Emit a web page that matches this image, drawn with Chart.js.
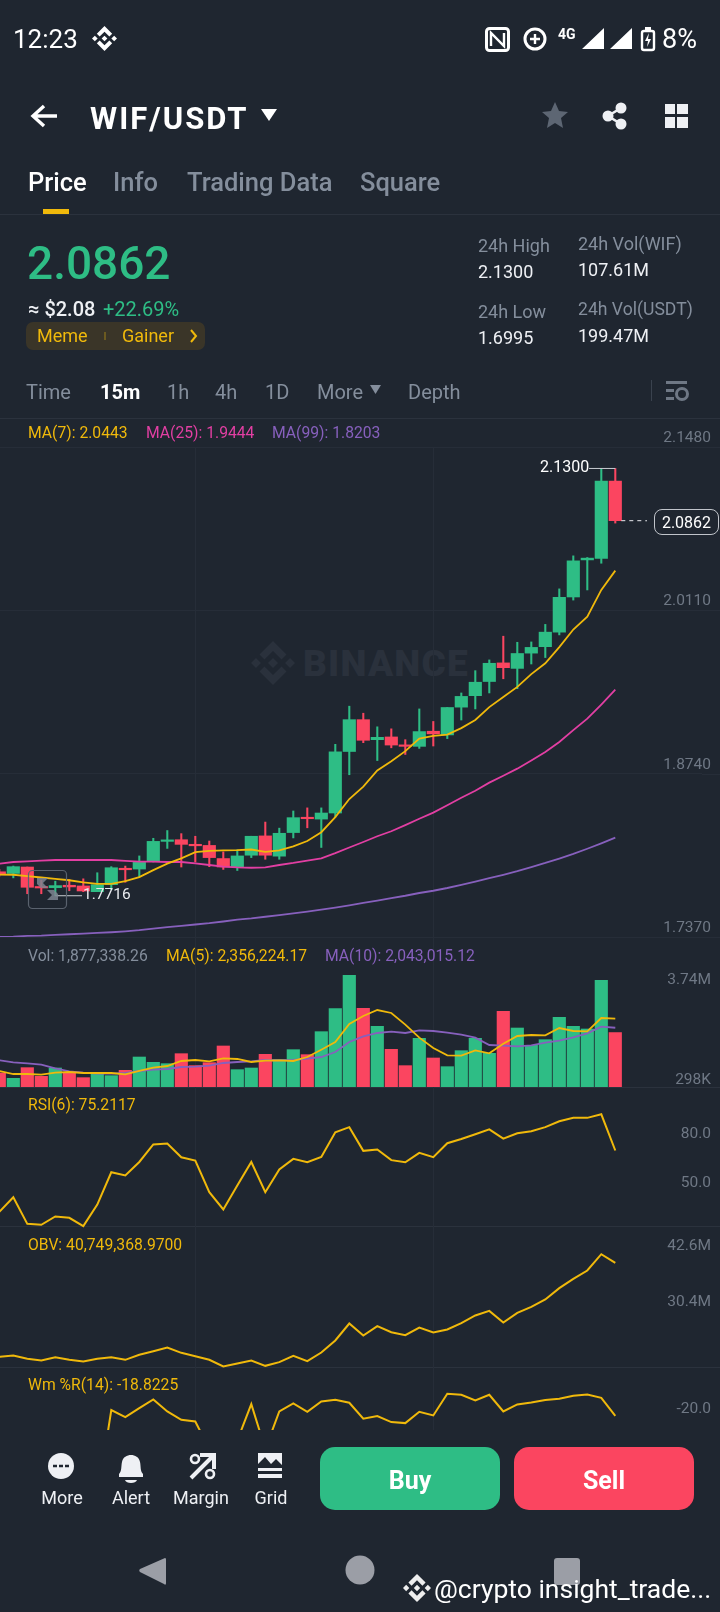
<!DOCTYPE html>
<html><head><meta charset="utf-8">
<script src="https://cdn.jsdelivr.net/npm/chart.js@4"></script>
<style>
html,body{margin:0;padding:0;background:#1f2630;width:720px;height:1612px;overflow:hidden;font-family:Roboto,sans-serif}
#app{position:relative;width:720px;height:1612px;overflow:hidden}
canvas{position:absolute;left:0}
.t{position:absolute;white-space:nowrap;transform:translateY(-50%);line-height:1}
.sep{position:absolute;left:0;width:720px;height:1px;background:#2b323d}
svg{position:absolute;overflow:visible}
#bar{position:absolute;left:0;top:1430px;width:720px;height:182px;background:#1f2630}
.btn{position:absolute;top:1447px;height:63px;width:180px;border-radius:15px}
</style></head><body><div id="app">
<svg style="left:251px;top:641px" width="44" height="44" viewBox="0 0 32 32"><use href="#bnb" fill="#2a313c"/></svg>
<svg width="0" height="0" style="left:0;top:0"><defs><path id="bnb" d="M9.79 13.45 16 7.24l6.21 6.21 3.61-3.61L16 0 6.18 9.82l3.61 3.63zM0 16l3.61-3.61L7.23 16l-3.62 3.61L0 16zm9.79 2.55L16 24.76l6.21-6.21 3.62 3.61L16 32l-9.82-9.82 3.61-3.63zM24.77 16l3.62-3.61L32 16l-3.61 3.61L24.77 16zM19.67 16l-3.67-3.67-2.71 2.71-.31.31-.64.64L16 19.67 19.67 16z"/></defs></svg>
<canvas id="cPrice"></canvas><canvas id="cVol"></canvas><canvas id="cRsi"></canvas><canvas id="cObv"></canvas><canvas id="cWr"></canvas>
<div id="bar"></div>
<div class="btn" style="left:320px;background:#2ebd85"></div>
<div class="btn" style="left:514px;background:#fb4560"></div>
<svg style="left:92px;top:26px" width="25" height="25" viewBox="0 0 32 32"><use href="#bnb" fill="#fff"/></svg>
<svg style="left:403px;top:1574px" width="28" height="28" viewBox="0 0 32 32"><use href="#bnb" fill="#eee"/></svg>
<svg style="left:0;top:0" width="720" height="1612" viewBox="0 0 720 1612">
 <rect x="486.500" y="28.500" width="22" height="22" rx="3" stroke="#fff" stroke-width="3" fill="#1f2630"/><path d="M491 46V33l13 13V33" stroke="#fff" stroke-width="2.400" fill="none"/>
 <circle cx="535" cy="39" r="10" stroke="#fff" stroke-width="3" fill="none"/><path d="M535 34v10M530 39h10" stroke="#fff" stroke-width="2.400"/>
 <path d="M604 28v21h-22zM632 28v21h-22z" fill="#fff"/>
 <rect x="642" y="31" width="12" height="19" rx="2" stroke="#fff" stroke-width="2.400" fill="none"/><rect x="645" y="27" width="6" height="3" fill="#fff"/><path d="M649 33l-4 8h3l-1 6 4-8h-3z" fill="#fff"/>
 <path d="M34 116h23M44 106l-11 10 11 10" stroke="#fff" stroke-width="3.400" fill="none"/>
 <path d="M261 109h16l-8 12z" fill="#fff"/>
 <path d="M555 102l4 9 9 1-7 6 2 10-8-5-8 5 2-10-7-6 9-1z" fill="#5d6673"/>
 <circle cx="621" cy="108" r="5.500" fill="#eef0f4"/><circle cx="608" cy="116" r="5.500" fill="#eef0f4"/><circle cx="621" cy="124" r="5.500" fill="#eef0f4"/><path d="M621 108l-13 8 13 8" stroke="#eef0f4" stroke-width="2.600" fill="none"/>
 <path d="M665 104h10v10h-10zM677 104h11v10h-11zM665 117h10v11h-10zM677 117h11v11h-11z" fill="#eef0f4"/>
 <rect x="43" y="209" width="26" height="5" fill="#f0b90b"/>
 <rect x="26" y="322" width="179" height="28" rx="7" fill="#3a3528"/>
 <rect x="104" y="332" width="2" height="8" fill="#6b5a20"/>
 <path d="M191 330l5 6-5 6" stroke="#f0b90b" stroke-width="2" fill="none"/>
 <path d="M370 385h11l-5.500 9z" fill="#848e9c"/>
 <rect x="651" y="380" width="1" height="21" fill="#3a424e"/>
 <path d="M666 381h21v3h-21zM666 389h8v3h-8zM666 397h8v3h-8z" fill="#6f7885"/><circle cx="682" cy="394" r="5.500" stroke="#6f7885" stroke-width="3" fill="none"/>
 <rect x="28.500" y="870.500" width="38" height="38" rx="4" stroke="#5a626e" stroke-width="1.200" fill="none"/>
 <path d="M37 878h11l-5 5 5 5h-7l-4-4zM58 900H47l5-5-5-5h7l4 4z" fill="#7d8590" opacity=".85"/>
 <circle cx="61" cy="1466" r="13" fill="#eef0f4"/><path d="M53 1466h4M59 1466h4M65 1466h4" stroke="#1f2630" stroke-width="2.600"/>
 <path d="M119 1474c3-3 2-8 3-12 1-5 5-7 9-7s8 2 9 7c1 4 0 9 3 12v3h-24zM125 1480h12c-1 4-11 4-12 0z" fill="#eef0f4"/>
 <path d="M191 1478l23-23M200 1455h14v14" stroke="#eef0f4" stroke-width="4" fill="none"/><circle cx="195" cy="1459" r="4" stroke="#eef0f4" stroke-width="2.600" fill="none"/><circle cx="210" cy="1474" r="4" stroke="#eef0f4" stroke-width="2.600" fill="none"/>
 <path d="M258 1453h24v12l-6-6-5 5-6-7-7 7z M258 1468h24v3h-24z M258 1474h24v4h-24z" fill="#eef0f4"/>
 <path d="M165 1558c1 0 1 1 1 2v23c0 2-1 2-2 1l-24-12c-1-1-1-2 0-3z" fill="#9b9ea6"/>
 <circle cx="360" cy="1570" r="14.500" fill="#9b9ea6"/>
 <rect x="554" y="1558" width="26" height="27" rx="3" fill="#9b9ea6"/>
</svg>
<script>
// ---- data -------------------------------------------------------------
const candleIndex=[-1,0,1,2,3,4,5,6,7,8,9,10,11,12,13,14,15,16,17,18,19,20,21,22,23,24,25,26,27,28,29,30,31,32,33,34,35,36,37,38,39,40,41,42,43];
const opens=[1.7917,1.7903,1.7957,1.7792,1.7784,1.7804,1.7798,1.7750,1.7809,1.7945,1.7940,1.8008,1.8172,1.8186,1.8147,1.8138,1.8028,1.7957,1.8056,1.8218,1.8048,1.8246,1.8373,1.8359,1.8410,1.8926,1.9193,1.9025,1.9048,1.8980,1.8969,1.9096,1.9065,1.9298,1.9394,1.9513,1.9669,1.9623,1.9751,1.9805,1.9927,2.0222,2.0533,2.0545,2.1194];
const closes=[1.7892,1.7960,1.7787,1.7781,1.7801,1.7790,1.7756,1.7809,1.7951,1.7934,1.7996,1.8172,1.8184,1.8147,1.8135,1.8036,1.7957,1.8050,1.8215,1.8056,1.8240,1.8371,1.8362,1.8410,1.8923,1.9193,1.9020,1.9045,1.8980,1.8969,1.9093,1.9074,1.9295,1.9388,1.9507,1.9666,1.9629,1.9748,1.9799,1.9927,2.0219,2.0525,2.0548,2.1194,2.0862];
const highs=[1.7937,1.7965,1.7957,1.7846,1.7838,1.7852,1.7858,1.7909,1.7960,1.7965,1.8050,1.8198,1.8263,1.8237,1.8215,1.8175,1.8084,1.8101,1.8215,1.8334,1.8283,1.8427,1.8453,1.8453,1.8986,1.9306,1.9247,1.9133,1.9116,1.9025,1.9283,1.9178,1.9295,1.9417,1.9604,1.9694,1.9893,1.9842,1.9845,1.9992,2.0290,2.0567,2.0553,2.1300,2.1300];
const lows=[1.7880,1.7866,1.7733,1.7733,1.7716,1.7758,1.7750,1.7750,1.7767,1.7829,1.7875,1.7999,1.8113,1.7957,1.7999,1.7960,1.7937,1.7928,1.8036,1.8022,1.8022,1.8201,1.8286,1.8121,1.8376,1.8731,1.9000,1.8850,1.8957,1.8901,1.8952,1.8972,1.9034,1.9190,1.9283,1.9417,1.9536,1.9453,1.9660,1.9714,1.9904,2.0196,2.0281,2.0505,2.0842];
const ma7=[1.7894,1.7892,1.7880,1.7869,1.7858,1.7846,1.7829,1.7815,1.7815,1.7838,1.7872,1.7931,1.7985,1.8030,1.8082,1.8093,1.8096,1.8098,1.8104,1.8084,1.8096,1.8130,1.8175,1.8249,1.8376,1.8527,1.8631,1.8767,1.8844,1.8929,1.9034,1.9057,1.9068,1.9122,1.9190,1.9298,1.9383,1.9468,1.9575,1.9666,1.9802,1.9949,2.0057,2.0281,2.0443];
const ma25=[1.7985,1.7999,1.8005,1.8011,1.8016,1.8016,1.8016,1.8016,1.8016,1.8008,1.8002,1.8002,1.7999,1.7999,1.7988,1.7974,1.7960,1.7954,1.7951,1.7954,1.7974,1.7991,1.8011,1.8030,1.8073,1.8121,1.8167,1.8215,1.8257,1.8308,1.8362,1.8413,1.8475,1.8538,1.8597,1.8665,1.8722,1.8782,1.8850,1.8921,1.9006,1.9105,1.9201,1.9320,1.9444];
const ma99=[1.7370,1.7373,1.7379,1.7381,1.7387,1.7393,1.7398,1.7404,1.7410,1.7418,1.7427,1.7441,1.7452,1.7464,1.7475,1.7486,1.7500,1.7515,1.7526,1.7540,1.7554,1.7568,1.7583,1.7600,1.7617,1.7636,1.7656,1.7676,1.7696,1.7716,1.7739,1.7758,1.7781,1.7807,1.7835,1.7863,1.7892,1.7923,1.7957,1.7991,1.8028,1.8067,1.8110,1.8155,1.8203];
const volumes=[0.483,0.299,0.667,0.368,0.655,0.506,0.322,0.483,0.391,0.575,1.034,0.851,0.805,1.149,0.736,0.839,1.414,0.598,0.655,1.126,0.943,1.287,1.115,1.908,2.701,3.851,2.713,2.092,1.299,0.736,1.678,1.000,0.701,1.253,1.678,1.161,2.609,2.034,1.437,1.632,2.402,2.092,2.000,3.678,1.877];
const volMa5=[0.552,0.448,0.448,0.425,0.494,0.517,0.483,0.483,0.483,0.437,0.552,0.667,0.724,0.897,0.931,0.885,0.989,0.966,0.862,0.908,0.920,0.897,1.034,1.287,1.552,2.172,2.448,2.655,2.552,2.149,1.701,1.345,1.092,1.080,1.264,1.161,1.494,1.759,1.793,1.782,2.034,1.931,1.920,2.379,2.356];
const volMa10=[0.920,0.851,0.816,0.770,0.644,0.540,0.494,0.460,0.460,0.483,0.552,0.598,0.621,0.690,0.701,0.736,0.828,0.862,0.885,0.931,0.920,0.931,0.977,1.034,1.207,1.552,1.747,1.862,1.908,1.862,1.954,1.931,1.874,1.805,1.701,1.448,1.425,1.402,1.437,1.529,1.598,1.713,1.851,2.080,2.043];
const rsi6=[37.6,46.6,30.3,29.7,34.8,34.0,28.9,42.1,61.9,59.9,68.2,78.9,79.5,71.1,69.1,49.7,39.1,53.8,68.2,49.7,63.6,70.1,68.0,71.3,86.4,89.5,75.0,75.8,69.3,68.0,73.8,71.1,79.7,82.3,85.2,88.2,82.5,85.8,87.0,89.5,93.1,95.2,95.2,97.4,75.21];
const obv=[20.41,20.70,19.98,19.62,20.34,19.77,19.41,19.98,20.34,19.77,20.85,21.64,22.43,21.28,20.56,19.77,18.32,18.97,19.62,18.47,19.26,20.63,19.48,21.35,23.95,27.62,25.03,27.05,25.75,25.10,26.76,25.68,26.33,27.70,29.36,30.36,27.84,29.93,31.23,32.82,35.27,37.29,39.09,42.62,40.75];
const wmr14=[-85,-70,-95,-98,-88,-90,-96,-82.9,-14.47,-19.85,-12.93,-6.26,-15.49,-21.90,-23.18,-44.5,-62.4,-37.8,-9.85,-44.5,-15.49,-9.34,-15.75,-7.80,-6.52,-8.83,-21.13,-19.08,-23.70,-24.47,-15.75,-18.57,-1.90,-2.67,-7.03,-2.67,-15.49,-10.11,-8.57,-6.77,-5.75,-3.44,-2.42,-4.98,-18.82];
const priceTicks=[2.148,2.011,1.874,1.737];
const volTicks=[298000,3740000];
const rsiTicks=[80,50];
const obvTicks=[42.6,30.4];
const wrTicks=[-20];
const xGridTicks=[13,30];
const highMark=2.13, lowMark=1.7716, lastPrice=2.0862;

// ---- style ------------------------------------------------------------
const GREEN='#2ebd85',RED='#fb4560',YEL='#f0b90b',PINK='#e23fa3',PUR='#8760bd',AXIS='#6f7885',GRID='#262d38';
const app=document.getElementById('app');
function T(s,x,y,size,color,w,extra){const d=document.createElement('div');d.className='t';d.textContent=s;
 d.style.cssText=`left:${x}px;top:${y}px;font-size:${size}px;color:${color};font-weight:${w||400};${extra||''}`;app.appendChild(d);return d;}
Chart.defaults.animation=false;
Chart.defaults.font.family='Roboto';
const PAD=24;
function xAxis(){return {type:'linear',min:-0.95,max:49.193,offset:false,
  afterBuildTicks:s=>{s.ticks=xGridTicks.map(v=>({value:v}));},
  ticks:{display:false},border:{display:false},grid:{color:GRID,drawTicks:false,lineWidth:1,offset:false}};}
function yAxis(ticks,min,max,fmt,grid,off){return {position:'right',min,max,
  afterBuildTicks:s=>{s.ticks=ticks.map(v=>({value:v}));},
  border:{display:false},grid:{display:grid,color:GRID,drawTicks:false},
  ticks:{mirror:true,padding:9,labelOffset:off,autoSkip:false,maxRotation:0,color:AXIS,font:{size:15.5},callback:fmt}};}
function pane(id,top,bottom,datasets,y,plugins){const c=document.getElementById(id);
  c.width=720;c.height=bottom-top+2*PAD;c.style.top=(top-PAD)+'px';c.style.width='720px';c.style.height=c.height+'px';
  return new Chart(c,{type:'bar',data:{datasets},plugins:plugins||[],options:{responsive:false,devicePixelRatio:1,
    layout:{padding:{top:PAD,bottom:PAD,left:0,right:0}},
    plugins:{legend:{display:false},tooltip:{enabled:false}},
    scales:{x:xAxis(),y}}});}
const ln=(vals,color,w)=>({type:'line',data:candleIndex.map((k,i)=>({x:k,y:vals[i]})),borderColor:color,borderWidth:w||1.8,pointRadius:0,tension:0,order:0});
const up=i=>closes[i]>=opens[i];
const colors=candleIndex.map((k,i)=>up(i)?GREEN:RED);

// ---- price pane -------------------------------------------------------
const annot={id:'annot',afterDraw(ch){const {ctx,scales:{x,y},chartArea}=ch;const px=x.getPixelForValue(43),
   yh=y.getPixelForValue(highMark),yl=y.getPixelForValue(lowMark),yp=y.getPixelForValue(lastPrice);
  ctx.save();ctx.strokeStyle=GRID;ctx.lineWidth=1;
  priceTicks.forEach(v=>{const g=Math.round(y.getPixelForValue(v))+.5;ctx.beginPath();ctx.moveTo(chartArea.right,g);ctx.lineTo(720,g);ctx.stroke();});
  ctx.strokeStyle='#c8ccd2';
  ctx.beginPath();ctx.moveTo(589,yh);ctx.lineTo(px,yh);ctx.stroke();
  ctx.beginPath();ctx.moveTo(x.getPixelForValue(3),yl);ctx.lineTo(82,yl);ctx.stroke();
  ctx.strokeStyle='#e8eaee';ctx.setLineDash([4,4]);ctx.beginPath();ctx.moveTo(px+6,yp);ctx.lineTo(647,yp);ctx.stroke();
  ctx.restore();
  if(!ch.$done){ch.$done=1;const off=ch.canvas.offsetTop;
    T(highMark.toFixed(4),540,off+yh-1,16,'#fff');
    T(lowMark.toFixed(4),83,off+yl-1,15.5,'#e8eaee');
    T(lastPrice.toFixed(4),654,off+yp+1,16,'#fff',400,'width:65px;height:26px;line-height:25px;text-align:center;border:1px solid #c0c4ca;border-radius:8px;box-sizing:border-box;');
  }}};
pane('cPrice',447,937,[
 ln(ma7,YEL),ln(ma25,PINK),ln(ma99,PUR),
 {data:candleIndex.map((k,i)=>({x:k,y:[opens[i],closes[i]]})),backgroundColor:colors,barThickness:12.5,minBarLength:1.5,grouped:false,order:1},
 {data:candleIndex.map((k,i)=>({x:k,y:[lows[i],highs[i]]})),backgroundColor:colors,barThickness:1.4,grouped:false,order:2}
],yAxis(priceTicks,1.737,2.148,v=>v.toFixed(4),true,-9),[annot]);

// ---- volume pane ------------------------------------------------------
pane('cVol',937,1087,[
 ln(volMa5.map(v=>v*1e6),YEL),ln(volMa10.map(v=>v*1e6),PUR),
 {data:candleIndex.map((k,i)=>({x:k,y:volumes[i]*1e6})),backgroundColor:colors,barThickness:12.5,grouped:false,order:1}
],yAxis(volTicks,0,5172000,v=>v>=1e6?(v/1e6).toFixed(2)+'M':Math.round(v/1e3)+'K',false,2));

// ---- RSI, OBV, Wm%R ---------------------------------------------------
pane('cRsi',1087,1228,[ln(rsi6,YEL,2)],yAxis(rsiTicks,27.76,114.1,v=>v.toFixed(1),false,-8.5));
pane('cObv',1226,1368,[ln(obv,YEL,2)],yAxis(obvTicks,18.0,48.72,v=>v.toFixed(1)+'M',false,-8.5));
pane('cWr',1367,1430,[ln(wmr14,YEL,2)],yAxis(wrTicks,-29.77,18.69,v=>v.toFixed(1),false,-8.5));

// ---- app chrome text --------------------------------------------------
const G='#848e9c',W='#eef0f4';
[214,418,937,1087,1226,1367].forEach(y=>{const d=document.createElement('div');d.className='sep';d.style.top=y+'px';app.insertBefore(d,app.firstChild);});
const wm=T('BINANCE',303,663,37,'#2a313c',900,'letter-spacing:1.2px');app.insertBefore(wm,app.firstChild);
T('12:23',13,39,26,'#fff');T('4G',558,34,14,'#fff',700);T('8%',662,39,27,'#fff');
T('WIF/USDT',90,118,31,'#fff',700,'letter-spacing:2px');
T('Price',28,183,25.5,'#fff',500);T('Info',113,183,25.5,G,500);T('Trading Data',187,183,25.5,G,500);T('Square',360,183,25.5,G,500);
T('2.0862',27,263,46,GREEN,500);
T('≈ $2.08',28,309,20,W,500);T('+22.69%',103,309,20,GREEN,400);
T('Meme',37,336,18,YEL);T('Gainer',122,336,18,YEL);
T('24h High',478,246,18,G);T('2.1300',478,272,18,W);T('24h Vol(WIF)',578,244,18,G);T('107.61M',578,270,18,W);
T('24h Low',478,312,18,G);T('1.6995',478,338,18,W);T('24h Vol(USDT)',578,310,17.6,G);T('199.47M',578,336,18,W);
T('Time',26,392,20,G);T('15m',100,392,20,'#fff',700);T('1h',167,392,20,G);T('4h',215,392,20,G);T('1D',265,392,20,G);T('More',317,392,20,G);T('Depth',408,392,20,G);
T('MA(7): 2.0443',28,433,15.7,YEL);T('MA(25): 1.9444',146,433,15.7,PINK);T('MA(99): 1.8203',272,433,15.7,PUR);
T('Vol: 1,877,338.26',28,956,15.7,G);T('MA(5): 2,356,224.17',166,956,15.7,YEL);T('MA(10): 2,043,015.12',325,956,15.7,PUR);
T('RSI(6): 75.2117',28,1105,15.7,YEL);T('OBV: 40,749,368.9700',28,1245,15.7,YEL);T('Wm %R(14): -18.8225',28,1385,15.7,YEL);
const C=(s,cx,y,size,color,w)=>{const d=T(s,cx,y,size,color,w);d.style.transform='translate(-50%,-50%)';};
C('More',62,1498,18,W);C('Alert',131,1498,18,W);C('Margin',201,1498,18,W);C('Grid',271,1498,18,W);
C('Buy',410,1480,25,'#fff',700);C('Sell',604,1480,25,'#fff',700);
T('@crypto insight_trade...',434,1589,26.5,'#fff',400);
</script>
</div></body></html>
